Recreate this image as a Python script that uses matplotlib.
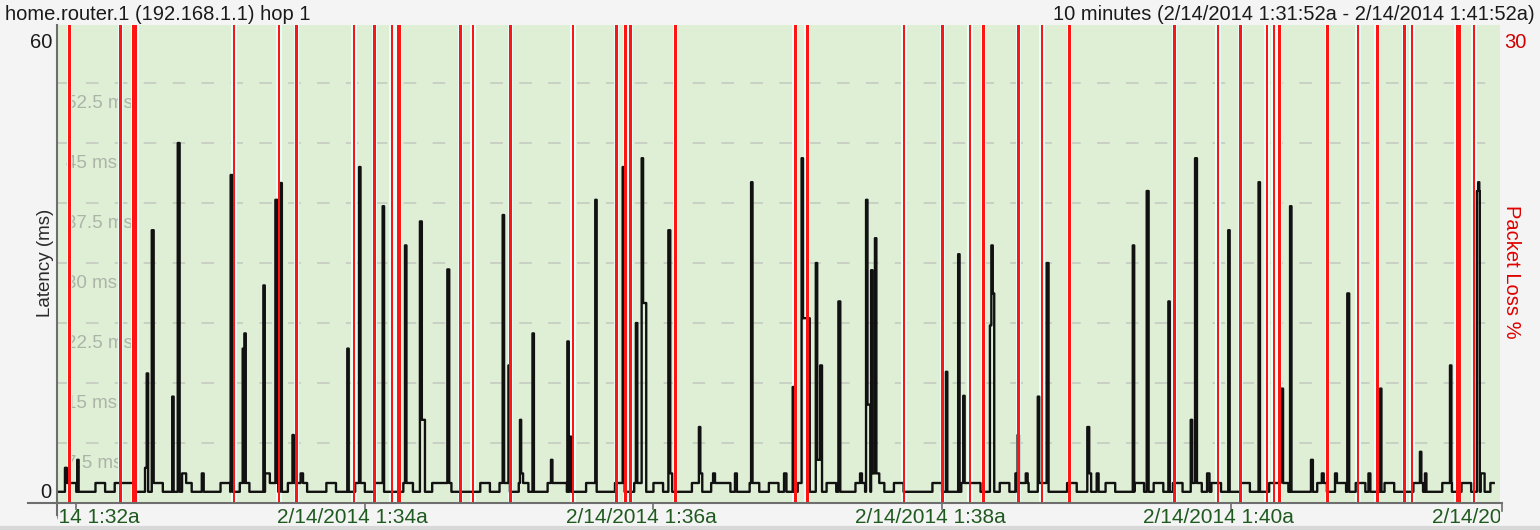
import numpy as np
import matplotlib.pyplot as plt
from matplotlib.lines import Line2D
from matplotlib.transforms import Bbox, TransformedBbox, ScaledTranslation

plt.rcParams['font.family'] = ['Liberation Sans', 'DejaVu Sans']

title_left = 'home.router.1 (192.168.1.1) hop 1'
title_right = '10 minutes (2/14/2014 1:31:52a - 2/14/2014 1:41:52a)'

# x axis is seconds after 1:31:52a
tick_sec = [8, 128, 248, 368, 488, 608]
tick_labels = ['2/14/2014 1:32a', '2/14/2014 1:34a', '2/14/2014 1:36a',
               '2/14/2014 1:38a', '2/14/2014 1:40a', '2/14/2014 1:42a']

grid_ms = [7.5, 15, 22.5, 30, 37.5, 45, 52.5]
grid_labels = ['7.5 ms', '15 ms', '22.5 ms', '30 ms', '37.5 ms', '45 ms', '52.5 ms']

# seconds with packet loss (red bars)
loss_sec = [4.6, 25.9, 31.2, 32.3, 73.0, 91.7, 99.0, 122.9, 131.5, 138.8, 141.2, 141.9,
            167.3, 172.4, 188.1, 214.0, 232.0, 235.8, 238.0, 256.7, 306.4, 311.4,
            351.6, 367.6, 379.1, 384.6, 399.3, 409.0, 420.5, 464.2, 482.2, 491.6,
            502.6, 505.5, 507.8, 527.7, 540.4, 548.4, 559.8, 562.9, 581.6, 582.7, 588.6]

# baseline latency, one value per 4 s
base_level = [
    1.4, 2.5, 1.4, 1.4, 2.5, 1.4, 2.5, 2.5, 1.4, 1.4,
    2.5, 1.4, 1.4, 2.5, 1.4, 1.4, 1.4, 2.5, 1.4, 2.5,
    1.4, 1.4, 2.5, 1.4, 2.5, 2.5, 1.4, 1.4, 2.5, 1.4,
    1.4, 2.5, 1.4, 2.5, 1.4, 1.4, 2.5, 1.4, 1.4, 2.5,
    2.5, 1.4, 1.4, 1.4, 2.5, 1.4, 2.5, 1.4, 2.5, 1.4,
    1.4, 2.5, 2.5, 1.4, 1.4, 2.5, 1.4, 1.4, 2.5, 1.4,
    2.5, 1.4, 2.5, 1.4, 1.4, 1.4, 2.5, 1.4, 2.5, 2.5,
    1.4, 1.4, 2.5, 1.4, 2.5, 1.4, 1.4, 2.5, 1.4, 1.4,
    2.5, 1.4, 1.4, 2.5, 1.4, 2.5, 1.4, 2.5, 1.4, 1.4,
    1.4, 2.5, 1.4, 1.4, 2.5, 2.5, 1.4, 1.4, 2.5, 1.4,
    2.5, 1.4, 2.5, 1.4, 1.4, 2.5, 1.4, 1.4, 1.4, 2.5,
    1.4, 1.4, 2.5, 1.4, 2.5, 1.4, 2.5, 1.4, 2.5, 1.4,
    2.5, 1.4, 1.4, 2.5, 1.4, 1.4, 2.5, 2.5, 1.4, 1.4,
    1.4, 2.5, 1.4, 2.5, 1.4, 2.5, 1.4, 1.4, 2.5, 1.4,
    1.4, 2.5, 1.4, 1.4, 2.5, 1.4, 2.5, 1.4, 1.4, 2.5,
]

# latency spikes: start second, value (ms), duration (s)
spike_sec = [3.3, 8.4, 36.6, 37.3, 39.4, 47.9, 50.2, 52.0, 60.2, 72.2,
             77.2, 77.9, 85.8, 86.5, 90.8, 92.7, 97.9, 101.3, 120.7, 125.6,
             135.4, 144.7, 150.9, 151.7, 162.3, 185.3, 187.7, 192.5, 193.0, 197.7,
             205.4, 212.2, 213.0, 223.8, 235.2, 240.7, 243.1, 243.7, 254.2, 255.0,
             266.9, 267.5, 272.8, 281.9, 288.6, 302.3, 305.9, 309.6, 310.2, 315.5,
             316.1, 317.3, 324.9, 333.9, 336.4, 337.0, 338.5, 339.1, 340.1, 340.7,
             369.6, 374.7, 376.8, 387.9, 388.5, 389.1, 398.5, 399.4, 402.8, 407.8,
             411.5, 428.4, 429.2, 432.3, 447.3, 453.1, 462.1, 471.4, 473.2, 478.2,
             487.0, 499.6, 508.8, 512.7, 521.4, 525.9, 531.4, 536.5, 545.3, 550.1,
             566.7, 568.8, 579.2, 590.4, 590.9, 592.0]
spike_ms = [4.4, 5.4, 4.4, 16.2, 34.1, 13.3, 45.0, 3.7, 3.7, 41.0,
            19.3, 21.2, 27.2, 3.7, 37.9, 40.0, 8.5, 3.7, 19.3, 42.0,
            37.1, 32.2, 35.2, 10.4, 29.2, 36.0, 17.2, 10.4, 3.7, 21.2,
            5.4, 20.2, 8.3, 37.9, 42.0, 22.5, 43.1, 25.0, 34.1, 3.7,
            9.5, 3.7, 3.7, 3.7, 40.1, 3.7, 14.5, 43.1, 23.1, 30.0,
            5.4, 17.2, 25.2, 3.7, 37.9, 12.3, 29.1, 3.7, 33.1, 3.7,
            16.4, 31.1, 13.4, 22.2, 32.2, 26.2, 3.7, 8.5, 3.7, 13.3,
            30.0, 9.5, 3.7, 3.7, 32.2, 39.0, 25.2, 10.4, 43.1, 3.7,
            34.1, 40.1, 14.3, 37.1, 5.4, 3.7, 3.7, 26.2, 3.7, 14.3,
            6.4, 3.7, 17.2, 39.0, 40.1, 3.7]
spike_len = [0.8, 0.6, 1.2, 0.6, 0.8, 0.6, 0.8, 1.7, 0.8, 0.8,
             0.6, 0.6, 0.6, 2.0, 0.8, 0.8, 0.6, 1.0, 0.6, 0.6,
             0.6, 0.6, 0.8, 1.3, 0.8, 0.6, 0.6, 0.6, 0.8, 0.6,
             0.6, 0.6, 0.8, 0.6, 0.6, 0.6, 0.6, 1.3, 0.8, 0.8,
             0.6, 0.8, 0.8, 0.8, 0.6, 1.0, 0.6, 0.6, 2.8, 0.6,
             1.2, 0.8, 0.8, 0.8, 0.6, 1.2, 0.6, 1.0, 0.6, 1.2,
             0.6, 0.6, 0.6, 0.6, 0.6, 0.6, 0.8, 0.6, 0.8, 0.6,
             0.8, 0.8, 0.8, 0.8, 0.6, 0.8, 0.6, 0.6, 0.8, 1.0,
             0.6, 0.6, 1.0, 0.6, 0.8, 0.8, 0.8, 0.8, 0.8, 0.6,
             0.6, 0.6, 0.6, 1.2, 0.5, 1.6]

W, H = 1540, 530
fig = plt.figure(figsize=(W / 100, H / 100), dpi=100, facecolor='#f4f4f4')

def fx(px):
    return px / W

def fy(py):
    return 1 - py / H

x0, x1, ytop, ybot = 57, 1500, 25, 503
ax = fig.add_axes([fx(x0), fy(ybot), fx(x1 - x0), (ybot - ytop) / H])
ax.set_facecolor('#dfefd6')
ax.set_xlim(0, 600)
ax.set_ylim(0, (ybot - ytop) / 8)
for s in ax.spines.values():
    s.set_visible(False)
ax.set_xticks([])
ax.set_yticks([])

# dashed grid + in-plot labels
for g, lbl in zip(grid_ms, grid_labels):
    ax.axhline(g, color='#c6cec2', lw=1.3, ls=(0, (7, 9)), zorder=1)
    ax.annotate(lbl, (0, g), xytext=(9, -20), textcoords='offset pixels',
                ha='left', va='center', fontsize=13.5, color='#acb4a8', zorder=1.5)

# latency series as a step line
dt = 0.1
t = np.arange(0, 597.5, dt)
lat = np.repeat(base_level, int(round(4 / dt)))[:len(t)].astype(float)
for s, v, w in zip(spike_sec, spike_ms, spike_len):
    lat[(t >= s - 1e-9) & (t < s + w - 1e-9)] = v
ax.step(t, lat, where='post', color='#111111', lw=1.7, zorder=3)

# packet loss bars
for s in loss_sec:
    ax.axvspan(s - 0.6, s + 1.7, color='#e8fff9', lw=0, zorder=2)
for s in loss_sec:
    ax.axvspan(s, s + 1.1, color='#ff1414', lw=0, zorder=4)

# axis lines
fig.add_artist(Line2D([fx(57), fx(57)], [fy(25), fy(515)], color='#6e6e6e', lw=1.5))
fig.add_artist(Line2D([fx(28), fx(1502)], [fy(503), fy(503)], color='#6e6e6e', lw=1.5))
fig.add_artist(Line2D([fx(1502), fx(1502)], [fy(503), fy(511)], color='#6e6e6e', lw=1.2))

# x tick marks and labels clipped to the plot width
clip = TransformedBbox(Bbox([[0, -1], [1, 0]]), ax.transAxes)
for ts, lbl in zip(tick_sec, tick_labels):
    if ts <= 600:
        ax.plot([ts, ts], [0, -0.7], color='#6e6e6e', lw=1.2, clip_on=False)
    tr = ax.get_xaxis_transform() + ScaledTranslation(-12 / 100, 0, fig.dpi_scale_trans)
    txt = ax.text(ts, -0.03, lbl, transform=tr, ha='center', va='center',
                  fontsize=15, color='#1f5a1f', clip_on=True)
    txt.set_clip_box(clip)
    txt.set_clip_path(None)

# titles and axis labels
fig.text(fx(5), fy(15), title_left, ha='left', va='center', fontsize=14.5, color='#1a1a1a')
fig.text(fx(1535), fy(15), title_right, ha='right', va='center', fontsize=14.5, color='#1a1a1a')
fig.text(fx(52), fy(43), '60', ha='right', va='center', fontsize=14.5, color='#1a1a1a')
fig.text(fx(51), fy(492), '0', ha='right', va='center', fontsize=14.5, color='#1a1a1a')
fig.text(fx(46), fy(263), 'Latency (ms)', rotation=90, ha='center', va='center',
         fontsize=13.5, color='#2a2a2a')
fig.text(fx(1504), fy(43), '30', ha='left', va='center', fontsize=14.5, color='#d10000')
fig.text(fx(1512), fy(272), 'Packet Loss %', rotation=-90, ha='center', va='center',
         fontsize=14.5, color='#e00000')

fig.add_artist(Line2D([0, 1], [fy(528), fy(528)], color='#d8d8d8', lw=3))

fig.savefig('out.png', dpi=100, facecolor=fig.get_facecolor())
